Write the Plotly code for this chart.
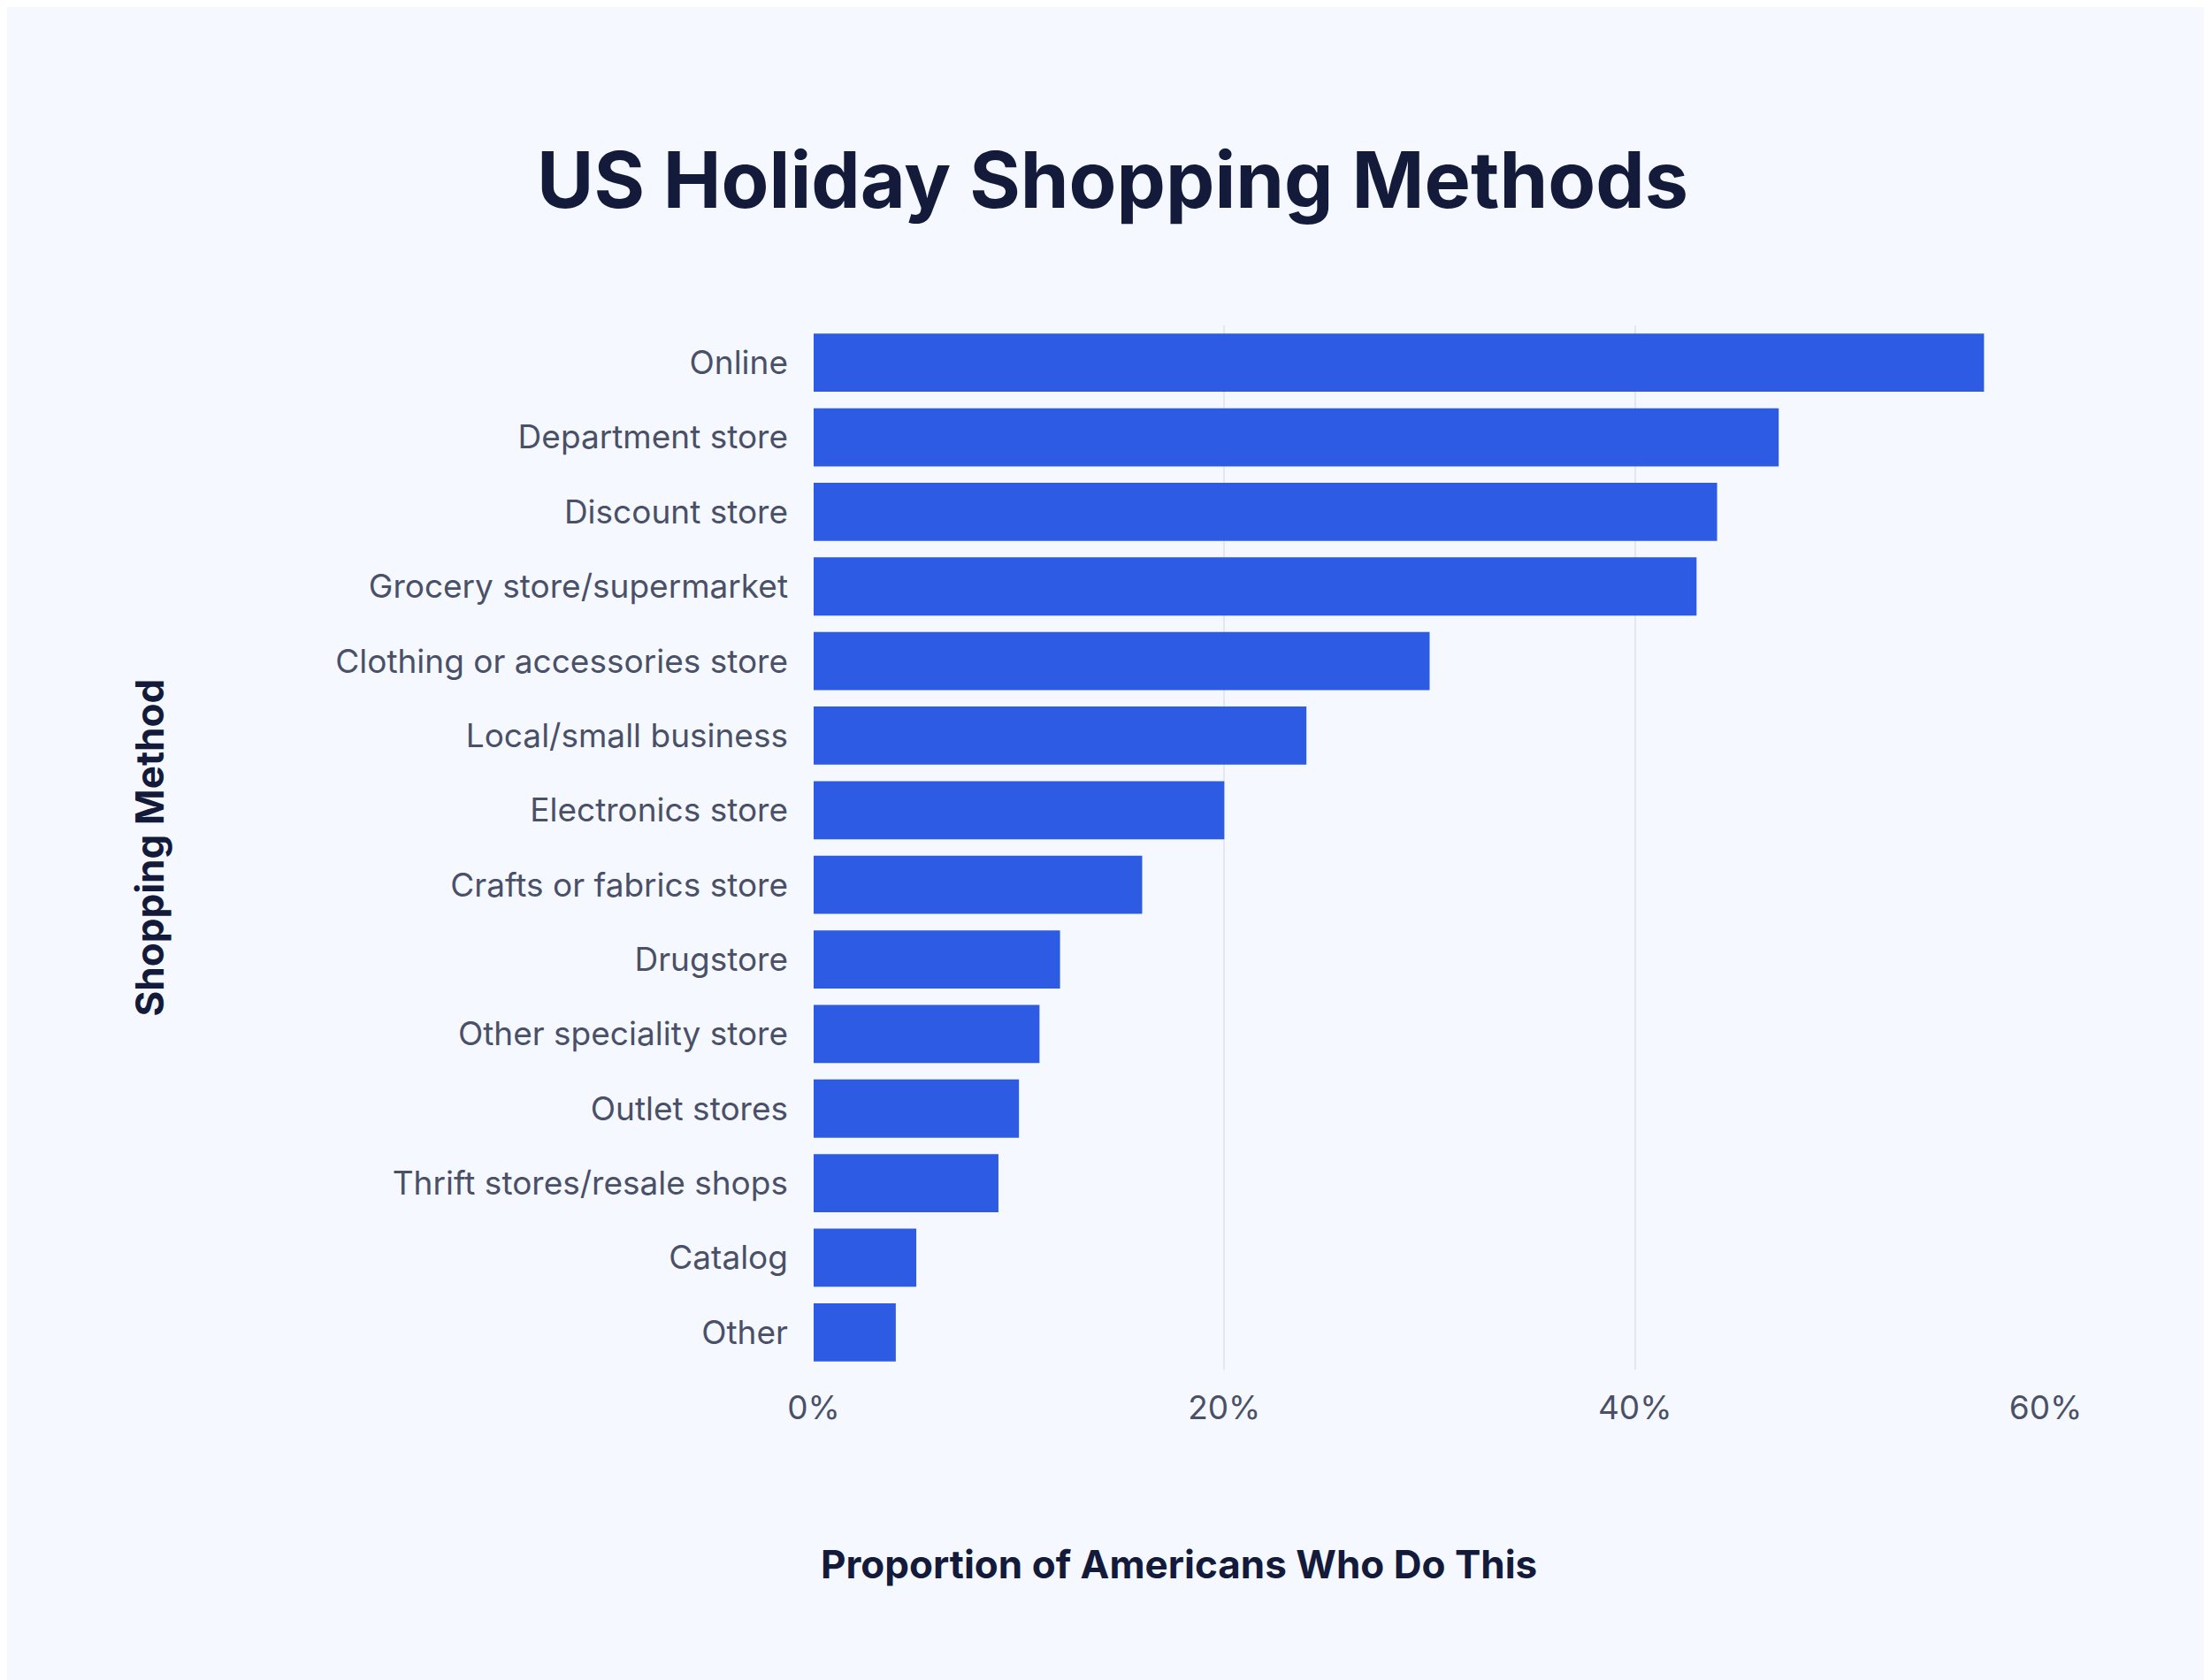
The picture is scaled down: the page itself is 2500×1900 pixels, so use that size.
import plotly.graph_objects as go

methods = ["Online", "Department store", "Discount store", "Grocery store/supermarket",
           "Clothing or accessories store", "Local/small business", "Electronics store",
           "Crafts or fabrics store", "Drugstore", "Other speciality store", "Outlet stores",
           "Thrift stores/resale shops", "Catalog", "Other"]
shares = [57, 47, 44, 43, 30, 24, 20, 16, 12, 11, 10, 9, 5, 4]
x_ticks = [0, 20, 40, 60]
x_tick_labels = ["0%", "20%", "40%", "60%"]

bg = "#f5f9ff"
dark = "#141a3a"
plot_w = 1393
plot_h = 1181

fig = go.Figure(go.Bar(
    x=shares, y=methods, orientation="h",
    marker=dict(color="#2d5be3", line=dict(width=0)),
    width=0.78,
))

fig.update_layout(
    width=2500, height=1900,
    paper_bgcolor=bg, plot_bgcolor=bg,
    margin=dict(l=912, r=195, t=360, b=359),
    font=dict(family="Inter, Roboto, sans-serif", color="#4a5068"),
    showlegend=False,
    annotations=[
        dict(text="<b>US Holiday Shopping Methods</b>",
             x=(1250 - 912) / plot_w, y=1 + (360 - 195) / plot_h,
             xref="paper", yref="paper", xanchor="center", yanchor="middle",
             showarrow=False, font=dict(size=88, color=dark)),
        dict(text="<b>Proportion of Americans Who Do This</b>",
             x=(1325 - 912) / plot_w, y=-(1761 - 1541) / plot_h,
             xref="paper", yref="paper", xanchor="center", yanchor="middle",
             showarrow=False, font=dict(size=44, color=dark)),
        dict(text="<b>Shopping Method</b>",
             x=-(912 - 160) / plot_w, y=0.5,
             xref="paper", yref="paper", xanchor="center", yanchor="middle",
             showarrow=False, textangle=-90, font=dict(size=44, color=dark)),
    ],
)

fig.update_xaxes(
    range=[0, 60], tickvals=x_ticks, ticktext=x_tick_labels,
    showgrid=True, gridcolor="#e3e8ef", gridwidth=2, zeroline=False,
    showline=False, tickfont=dict(size=37, color="#4a5068"), ticklabelstandoff=18,
)
fig.update_yaxes(
    autorange="reversed", showgrid=False, showline=False,
    tickfont=dict(size=37, color="#4a5068"), ticklabelstandoff=28,
)

fig.write_html("out.html")
